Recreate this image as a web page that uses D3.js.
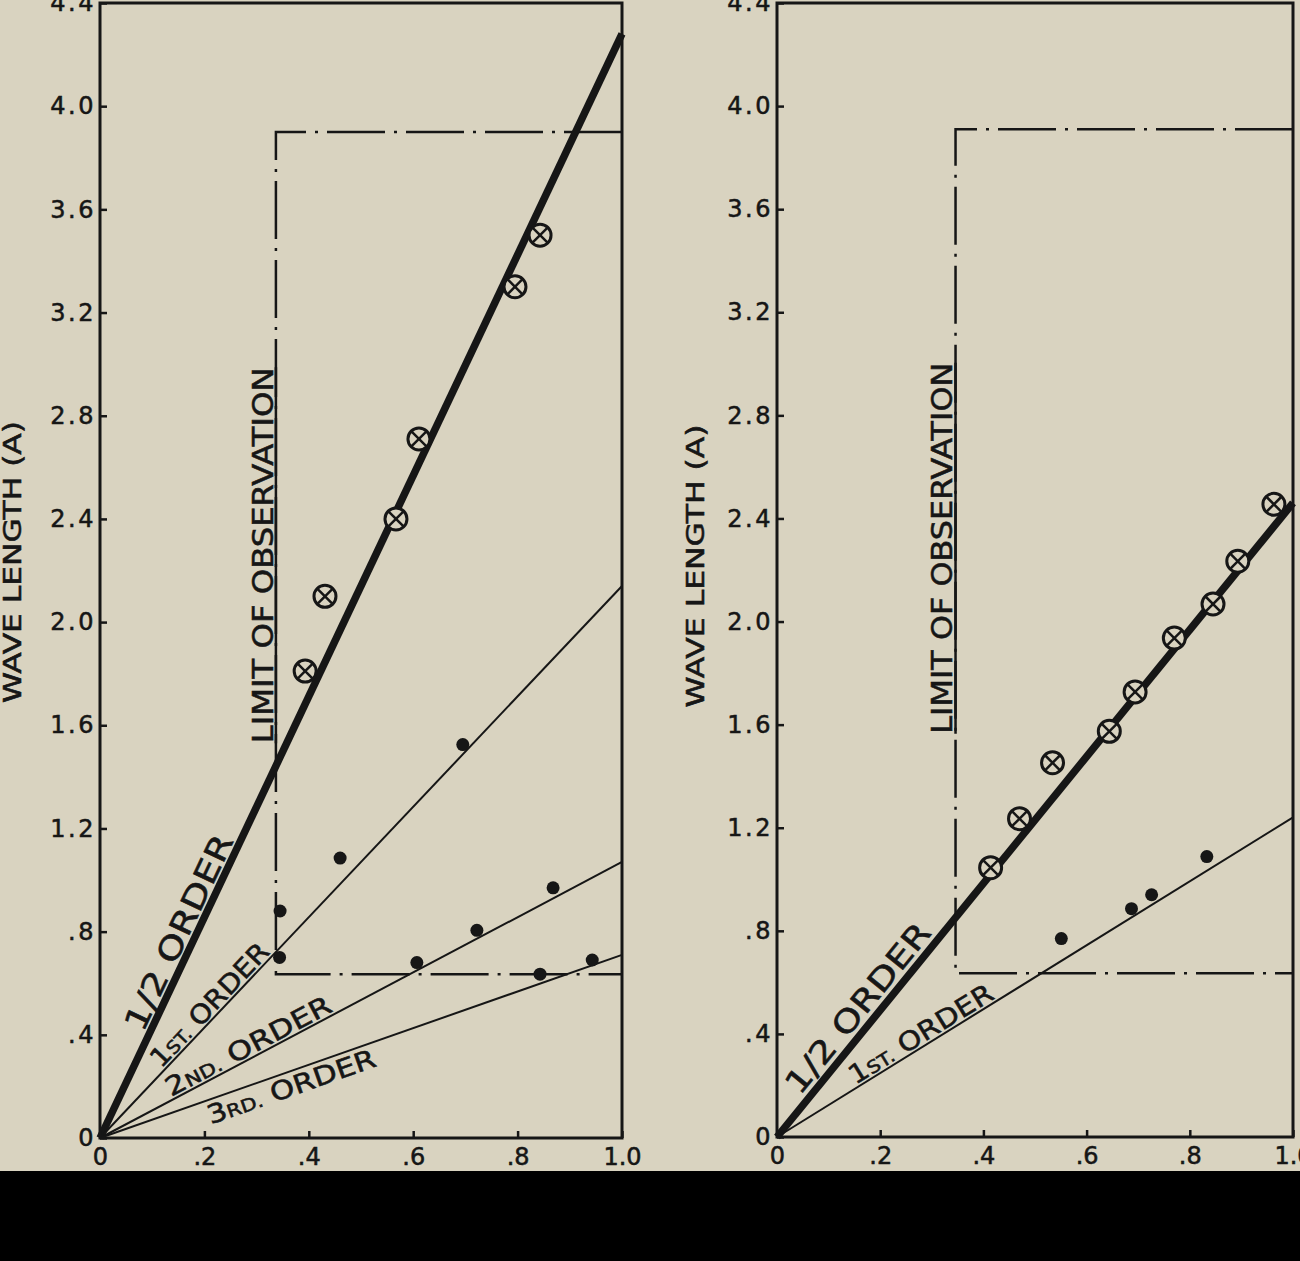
<!DOCTYPE html>
<html>
<head>
<meta charset="utf-8">
<script src="https://cdn.jsdelivr.net/npm/d3@7"></script>
<style>
  html, body { margin: 0; padding: 0; background: #d9d3c0; }
  svg { display: block; }
  text { font-family: "DejaVu Sans", "Liberation Sans", sans-serif; fill: #161616; stroke: #161616; stroke-width: 0.55px; }
</style>
</head>
<body>
<script>
// ---------------- DATA ----------------
const yTicks = [0, 0.4, 0.8, 1.2, 1.6, 2.0, 2.4, 2.8, 3.2, 3.6, 4.0, 4.4];
const yTickLabels = ["0", ".4", ".8", "1.2", "1.6", "2.0", "2.4", "2.8", "3.2", "3.6", "4.0", "4.4"];
const xTicks = [0, 0.2, 0.4, 0.6, 0.8, 1.0];
const xTickLabels = ["0", ".2", ".4", ".6", ".8", "1.0"];
const yAxisTitle = "WAVE LENGTH (A)";
const limitTitle = "LIMIT OF OBSERVATION";

// Left panel
const leftLineLabels = ["1/2 ORDER", "1ST. ORDER", "2ND. ORDER", "3RD. ORDER"];
const leftLineEnds = [4.28, 2.14, 1.07, 0.71];          // value at x = 1.0 (lines through origin)
const leftCrossX = [0.393, 0.431, 0.567, 0.611, 0.795, 0.843];
const leftCrossY = [1.81, 2.10, 2.40, 2.71, 3.30, 3.50];
const leftDotX = [0.344, 0.345, 0.46, 0.607, 0.695, 0.722, 0.843, 0.868, 0.943];
const leftDotY = [0.70, 0.88, 1.085, 0.68, 1.525, 0.805, 0.635, 0.97, 0.69];
const leftLimitX = 0.337, leftLimitLow = 0.635, leftLimitHigh = 3.90;

// Right panel
const rightLineLabels = ["1/2 ORDER", "1ST. ORDER"];
const rightLineEnds = [2.46, 1.24];
const rightCrossX = [0.414, 0.47, 0.534, 0.644, 0.694, 0.770, 0.845, 0.893, 0.963];
const rightCrossY = [1.045, 1.235, 1.452, 1.574, 1.727, 1.936, 2.068, 2.234, 2.455];
const rightDotX = [0.551, 0.687, 0.726, 0.833];
const rightDotY = [0.77, 0.886, 0.94, 1.088];
const rightLimitX = 0.346, rightLimitLow = 0.635, rightLimitHigh = 3.91;

// ---------------- LAYOUT / STYLE ----------------
const W = 1300, H = 1261;
const BG = "#d9d3c0", INK = "#161616";

const panels = [
  { x0: 100, x1: 622, y0: 1138, yTop: 3,
    ends: leftLineEnds, labels: leftLineLabels,
    crossX: leftCrossX, crossY: leftCrossY, dotX: leftDotX, dotY: leftDotY,
    limX: leftLimitX, limLow: leftLimitLow, limHigh: leftLimitHigh,
    limTextStart: 1.53, limTextLen: 376, limTextShift: -3,
    titleX: 21, titleY: 562, titleLen: 282,
    labelLayout: [
      { along: 113, offset: 6, fs: 31, len: 213 },
      { along: 92, offset: 3, fs: 26, len: 160 },
      { along: 82, offset: 3, fs: 26, len: 184 },
      { along: 109, offset: -24, fs: 26, len: 177 }
    ] },
  { x0: 777, x1: 1293, y0: 1137, yTop: 3,
    ends: rightLineEnds, labels: rightLineLabels,
    crossX: rightCrossX, crossY: rightCrossY, dotX: rightDotX, dotY: rightDotY,
    limX: rightLimitX, limLow: rightLimitLow, limHigh: rightLimitHigh,
    limTextStart: 1.565, limTextLen: 371, limTextShift: -4,
    titleX: 704, titleY: 566, titleLen: 283,
    labelLayout: [
      { along: 46, offset: 8, fs: 31, len: 210 },
      { along: 94, offset: 3, fs: 26, len: 165 }
    ] }
];

const svg = d3.select("body").append("svg")
  .attr("width", W).attr("height", H);

svg.append("rect").attr("width", W).attr("height", H).attr("fill", BG);

panels.forEach(p => {
  const x = d3.scaleLinear().domain([0, 1]).range([p.x0, p.x1]);
  const y = d3.scaleLinear().domain([0, 4.4]).range([p.y0, p.yTop]);
  const g = svg.append("g");

  // limit of observation (dash-dot box)
  const limPath = d3.path();
  limPath.moveTo(x(1), y(p.limHigh));
  limPath.lineTo(x(p.limX), y(p.limHigh));
  limPath.lineTo(x(p.limX), y(p.limLow));
  limPath.lineTo(x(1), y(p.limLow));
  g.append("path").attr("d", limPath.toString())
    .attr("fill", "none").attr("stroke", INK).attr("stroke-width", 2.5)
    .attr("stroke-dasharray", "58,9,3,9");

  // solid underline where the title runs
  const ty0 = y(p.limTextStart);
  g.append("line")
    .attr("x1", x(p.limX)).attr("x2", x(p.limX))
    .attr("y1", ty0).attr("y2", ty0 - p.limTextLen)
    .attr("stroke", INK).attr("stroke-width", 2.5);
  g.append("text")
    .attr("transform", `translate(${x(p.limX) + p.limTextShift},${ty0}) rotate(-90)`)
    .attr("font-size", 29)
    .attr("textLength", p.limTextLen).attr("lengthAdjust", "spacingAndGlyphs")
    .text(limitTitle);

  // order lines
  p.ends.forEach((v, i) => {
    g.append("line")
      .attr("x1", x(0)).attr("y1", y(0))
      .attr("x2", x(1)).attr("y2", y(v))
      .attr("stroke", INK)
      .attr("stroke-width", i === 0 ? 7.5 : 2)
      .attr("stroke-linecap", "butt");
  });

  // line labels
  p.ends.forEach((v, i) => {
    const L = p.labelLayout[i];
    const ang = Math.atan2(y(v) - y(0), x(1) - x(0));
    const c = Math.cos(ang), s = Math.sin(ang);
    const px = x(0) + L.along * c + L.offset * s;
    const py = y(0) + L.along * s - L.offset * c;
    const t = g.append("text")
      .attr("transform", `translate(${px},${py}) rotate(${ang * 180 / Math.PI})`)
      .attr("font-size", L.fs)
      .attr("textLength", L.len).attr("lengthAdjust", "spacingAndGlyphs");
    const m = p.labels[i].match(/^(\d)(ST\.|ND\.|RD\.)(.*)$/);
    if (m) {
      t.append("tspan").text(m[1]);
      t.append("tspan").attr("font-size", L.fs * 0.68).text(m[2]);
      t.append("tspan").text(m[3]);
    } else {
      t.text(p.labels[i]);
    }
  });

  // dots
  g.selectAll(".dot").data(p.dotX.map((d, i) => [d, p.dotY[i]])).join("circle")
    .attr("cx", d => x(d[0])).attr("cy", d => y(d[1])).attr("r", 6.5)
    .attr("fill", INK);

  // crossed circles
  const cr = 11, k = cr * 0.7071;
  const cg = g.selectAll(".cross").data(p.crossX.map((d, i) => [d, p.crossY[i]])).join("g")
    .attr("transform", d => `translate(${x(d[0])},${y(d[1])})`);
  cg.append("circle").attr("r", cr).attr("fill", BG).attr("stroke", INK).attr("stroke-width", 3);
  cg.append("line").attr("x1", -k).attr("y1", -k).attr("x2", k).attr("y2", k)
    .attr("stroke", INK).attr("stroke-width", 2.5);
  cg.append("line").attr("x1", -k).attr("y1", k).attr("x2", k).attr("y2", -k)
    .attr("stroke", INK).attr("stroke-width", 2.5);

  // axes
  const ya = g.append("g").attr("transform", `translate(${x(0)},0)`)
    .call(d3.axisLeft(y).tickValues(yTicks).tickSizeInner(-7).tickSizeOuter(0)
      .tickPadding(4).tickFormat((d, i) => yTickLabels[i]));
  const xa = g.append("g").attr("transform", `translate(0,${y(0)})`)
    .call(d3.axisBottom(x).tickValues(xTicks).tickSizeInner(-7).tickSizeOuter(0)
      .tickPadding(10).tickFormat((d, i) => xTickLabels[i]));
  [ya, xa].forEach(a => {
    a.select(".domain").remove();
    a.selectAll(".tick line").attr("stroke", INK).attr("stroke-width", 2.5);
    a.selectAll(".tick text").attr("font-size", 24).attr("fill", INK)
      .attr("font-family", "DejaVu Sans, sans-serif");
  });
  ya.selectAll(".tick text").attr("letter-spacing", 2.5);

  // frame
  g.append("rect")
    .attr("x", x(0)).attr("y", y(4.4))
    .attr("width", x(1) - x(0)).attr("height", y(0) - y(4.4))
    .attr("fill", "none").attr("stroke", INK).attr("stroke-width", 3);

  // y axis title
  svg.append("text")
    .attr("transform", `translate(${p.titleX},${p.titleY}) rotate(-90)`)
    .attr("text-anchor", "middle")
    .attr("font-size", 24)
    .attr("textLength", p.titleLen).attr("lengthAdjust", "spacingAndGlyphs")
    .text(yAxisTitle);
});

// dark band at the bottom of the picture
svg.append("rect").attr("x", 0).attr("y", 1171).attr("width", W).attr("height", H - 1171)
  .attr("fill", "#000");
</script>
</body>
</html>
